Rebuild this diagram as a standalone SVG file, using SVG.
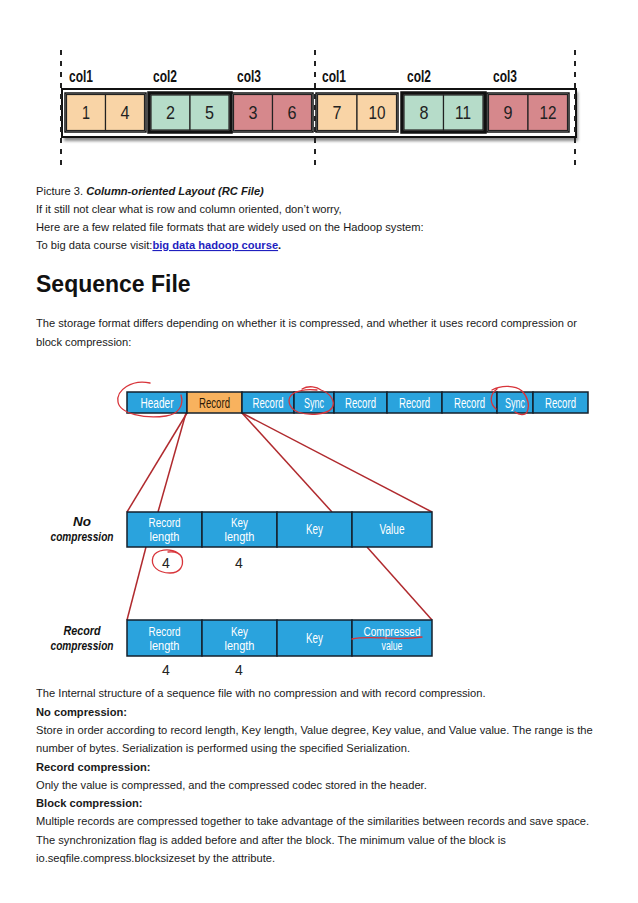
<svg xmlns="http://www.w3.org/2000/svg" width="638" height="903" viewBox="0 0 638 903">
<defs>
<filter id="sh" x="-5%" y="-30%" width="110%" height="160%"><feGaussianBlur stdDeviation="1.5"/></filter>
<style>
.body{font-family:"Liberation Sans",Arial,sans-serif;font-size:11.15px;fill:#1a1a1a}
.b{font-weight:bold}
.h1{font-family:"Liberation Sans",Arial,sans-serif;font-size:23px;font-weight:bold;fill:#111}
.cond{font-family:"Liberation Sans",Arial,sans-serif}
.collab{font-size:17px;font-weight:bold;fill:#111}
.num{font-size:19px;fill:#222;text-anchor:middle}
.pe{fill:#f9d4a6;stroke:#222;stroke-width:1.2}
.gr{fill:#b6dcc9;stroke:#222;stroke-width:1.2}
.rd{fill:#d6888c;stroke:#222;stroke-width:1.2}
.grp{fill:#fff;stroke:#111;stroke-width:1.5}
.grpT{fill:#fff;stroke:#111;stroke-width:3.5}
.dash{stroke:#222;stroke-width:2;stroke-dasharray:5 6;fill:none}
.blue{fill:#2aa3dd;stroke:#15202c;stroke-width:1.5}
.org{fill:#f8b25e;stroke:#15202c;stroke-width:1.5}
.wt{font-size:14px;fill:#fff;text-anchor:middle}
.wt2{font-size:12.5px;fill:#fff;text-anchor:middle}
.dk{font-size:14px;fill:#2a1a0a;text-anchor:middle}
.lab{font-size:13.5px;font-weight:bold;font-style:italic;fill:#111;text-anchor:middle}
.four{font-size:14px;fill:#222;text-anchor:middle}
.conn{stroke:#b02a2e;stroke-width:1.5;fill:none}
.ann{stroke:#d8343a;stroke-width:1.3;fill:none;stroke-linecap:round}
</style>
</defs>
<rect width="638" height="903" fill="#fff"/>

<!-- Column-oriented layout -->
<g id="rcfile">
<rect x="64" y="92" width="514" height="49" fill="#888" filter="url(#sh)"/>
<rect x="62" y="89" width="514" height="48" fill="#fff" stroke="#111" stroke-width="2"/>
<g id="g1">
<rect class="grp" x="65" y="93" width="81" height="39"/>
<rect class="pe" x="66.5" y="94.5" width="39" height="36"/><rect class="pe" x="105.5" y="94.5" width="39" height="36"/>
<text class="cond num" x="86" y="119" textLength="8" lengthAdjust="spacingAndGlyphs">1</text><text class="cond num" x="125" y="119" textLength="9" lengthAdjust="spacingAndGlyphs">4</text>
</g>
<g id="g2">
<rect class="grpT" x="149" y="93" width="82" height="39"/>
<rect class="gr" x="151" y="95" width="39" height="35"/><rect class="gr" x="190" y="95" width="39" height="35"/>
<text class="cond num" x="170.5" y="119" textLength="9" lengthAdjust="spacingAndGlyphs">2</text><text class="cond num" x="209.5" y="119" textLength="9" lengthAdjust="spacingAndGlyphs">5</text>
</g>
<g id="g3">
<rect class="grp" x="232" y="93" width="81" height="39"/>
<rect class="rd" x="233.5" y="94.5" width="39" height="36"/><rect class="rd" x="272.5" y="94.5" width="39" height="36"/>
<text class="cond num" x="253" y="119" textLength="9" lengthAdjust="spacingAndGlyphs">3</text><text class="cond num" x="292" y="119" textLength="9" lengthAdjust="spacingAndGlyphs">6</text>
</g>
<g id="g4">
<rect class="grp" x="316" y="93" width="82" height="39"/>
<rect class="pe" x="317.5" y="94.5" width="39.5" height="36"/><rect class="pe" x="357" y="94.5" width="39.5" height="36"/>
<text class="cond num" x="337" y="119" textLength="9" lengthAdjust="spacingAndGlyphs">7</text><text class="cond num" x="377" y="119" textLength="17" lengthAdjust="spacingAndGlyphs">10</text>
</g>
<g id="g5">
<rect class="grpT" x="402" y="93" width="83" height="39"/>
<rect class="gr" x="404" y="95" width="39.5" height="35"/><rect class="gr" x="443.5" y="95" width="39.5" height="35"/>
<text class="cond num" x="424" y="119" textLength="9" lengthAdjust="spacingAndGlyphs">8</text><text class="cond num" x="463" y="119" textLength="16" lengthAdjust="spacingAndGlyphs">11</text>
</g>
<g id="g6">
<rect class="grp" x="487" y="93" width="82" height="39"/>
<rect class="rd" x="488.5" y="94.5" width="39.5" height="36"/><rect class="rd" x="528" y="94.5" width="39.5" height="36"/>
<text class="cond num" x="508" y="119" textLength="9" lengthAdjust="spacingAndGlyphs">9</text><text class="cond num" x="548" y="119" textLength="17" lengthAdjust="spacingAndGlyphs">12</text>
</g>
<line class="dash" x1="61" y1="50" x2="61" y2="170"/>
<line class="dash" x1="315" y1="50" x2="315" y2="170"/>
<line class="dash" x1="575" y1="50" x2="575" y2="170"/>
<text class="cond collab" x="69" y="82" textLength="24" lengthAdjust="spacingAndGlyphs">col1</text>
<text class="cond collab" x="153" y="82" textLength="24" lengthAdjust="spacingAndGlyphs">col2</text>
<text class="cond collab" x="237" y="82" textLength="24" lengthAdjust="spacingAndGlyphs">col3</text>
<text class="cond collab" x="322" y="82" textLength="24" lengthAdjust="spacingAndGlyphs">col1</text>
<text class="cond collab" x="407" y="82" textLength="24" lengthAdjust="spacingAndGlyphs">col2</text>
<text class="cond collab" x="493" y="82" textLength="24" lengthAdjust="spacingAndGlyphs">col3</text>
</g>

<!-- Text block 1 -->
<text class="body" x="36" y="195">Picture 3. <tspan class="b" font-style="italic">Column-oriented Layout (RC File)</tspan></text>
<text class="body" x="36" y="213">If it still not clear what is row and column oriented, don’t worry,</text>
<text class="body" x="36" y="231">Here are a few related file formats that are widely used on the Hadoop system:</text>
<text class="body" x="36" y="249">To big data course visit:<tspan class="b" fill="#1f1fbf" text-decoration="underline">big data hadoop course</tspan><tspan class="b">.</tspan></text>
<text class="h1" x="36" y="292">Sequence File</text>
<text class="body" x="36" y="327">The storage format differs depending on whether it is compressed, and whether it uses record compression or</text>
<text class="body" x="36" y="346">block compression:</text>

<!-- Connectors -->
<g id="connectors">
<line class="conn" x1="187" y1="413" x2="127" y2="512"/>
<line class="conn" x1="186" y1="413" x2="158" y2="512"/>
<line class="conn" x1="242" y1="413" x2="332" y2="512"/>
<line class="conn" x1="242" y1="413" x2="432" y2="512"/>
<line class="conn" x1="146" y1="547" x2="127" y2="620"/>
<line class="conn" x1="367" y1="547" x2="432" y2="620"/>
</g>

<!-- Top sequence bar -->
<g id="seqbar">
<g id="s-header"><rect class="blue" x="127" y="392" width="60" height="21"/><text class="cond wt" x="157" y="407.5" textLength="33" lengthAdjust="spacingAndGlyphs">Header</text></g>
<g id="s-rec1"><rect class="org" x="187" y="392" width="55" height="21"/><text class="cond dk" x="214.5" y="407.5" textLength="31" lengthAdjust="spacingAndGlyphs">Record</text></g>
<g id="s-rec2"><rect class="blue" x="242" y="392" width="52" height="21"/><text class="cond wt" x="268" y="407.5" textLength="31" lengthAdjust="spacingAndGlyphs">Record</text></g>
<g id="s-sync1"><rect class="blue" x="294" y="392" width="40" height="21"/><text class="cond wt" x="314" y="407.5" textLength="20" lengthAdjust="spacingAndGlyphs">Sync</text></g>
<g id="s-rec3"><rect class="blue" x="334" y="392" width="53" height="21"/><text class="cond wt" x="360.5" y="407.5" textLength="31" lengthAdjust="spacingAndGlyphs">Record</text></g>
<g id="s-rec4"><rect class="blue" x="387" y="392" width="55" height="21"/><text class="cond wt" x="414.5" y="407.5" textLength="31" lengthAdjust="spacingAndGlyphs">Record</text></g>
<g id="s-rec5"><rect class="blue" x="442" y="392" width="55" height="21"/><text class="cond wt" x="469.5" y="407.5" textLength="31" lengthAdjust="spacingAndGlyphs">Record</text></g>
<g id="s-sync2"><rect class="blue" x="497" y="392" width="36" height="21"/><text class="cond wt" x="515" y="407.5" textLength="20" lengthAdjust="spacingAndGlyphs">Sync</text></g>
<g id="s-rec6"><rect class="blue" x="533" y="392" width="55" height="21"/><text class="cond wt" x="560.5" y="407.5" textLength="31" lengthAdjust="spacingAndGlyphs">Record</text></g>
</g>

<!-- No compression row -->
<g id="nocomp">
<text class="cond lab" x="82" y="526" textLength="18" lengthAdjust="spacingAndGlyphs">No</text>
<text class="cond lab" x="82" y="541" textLength="63" lengthAdjust="spacingAndGlyphs">compression</text>
<g id="n-reclen"><rect class="blue" x="127" y="512" width="75" height="35"/><text class="cond wt2" x="164.5" y="527" textLength="32" lengthAdjust="spacingAndGlyphs">Record</text><text class="cond wt2" x="164.5" y="541" textLength="30" lengthAdjust="spacingAndGlyphs">length</text></g>
<g id="n-keylen"><rect class="blue" x="202" y="512" width="75" height="35"/><text class="cond wt2" x="239.5" y="527" textLength="17" lengthAdjust="spacingAndGlyphs">Key</text><text class="cond wt2" x="239.5" y="541" textLength="30" lengthAdjust="spacingAndGlyphs">length</text></g>
<g id="n-key"><rect class="blue" x="277" y="512" width="75" height="35"/><text class="cond wt" x="314.5" y="534" textLength="17" lengthAdjust="spacingAndGlyphs">Key</text></g>
<g id="n-value"><rect class="blue" x="352" y="512" width="80" height="35"/><text class="cond wt" x="392" y="534" textLength="25" lengthAdjust="spacingAndGlyphs">Value</text></g>
<text class="cond four" x="166" y="568">4</text>
<text class="cond four" x="239" y="568">4</text>
</g>

<!-- Record compression row -->
<g id="reccomp">
<text class="cond lab" x="82" y="635" textLength="37" lengthAdjust="spacingAndGlyphs">Record</text>
<text class="cond lab" x="82" y="650" textLength="63" lengthAdjust="spacingAndGlyphs">compression</text>
<g id="r-reclen"><rect class="blue" x="127" y="620" width="75" height="36"/><text class="cond wt2" x="164.5" y="636" textLength="32" lengthAdjust="spacingAndGlyphs">Record</text><text class="cond wt2" x="164.5" y="650" textLength="30" lengthAdjust="spacingAndGlyphs">length</text></g>
<g id="r-keylen"><rect class="blue" x="202" y="620" width="75" height="36"/><text class="cond wt2" x="239.5" y="636" textLength="17" lengthAdjust="spacingAndGlyphs">Key</text><text class="cond wt2" x="239.5" y="650" textLength="30" lengthAdjust="spacingAndGlyphs">length</text></g>
<g id="r-key"><rect class="blue" x="277" y="620" width="75" height="36"/><text class="cond wt" x="314.5" y="643" textLength="17" lengthAdjust="spacingAndGlyphs">Key</text></g>
<g id="r-cvalue"><rect class="blue" x="352" y="620" width="80" height="36"/><text class="cond wt2" x="392" y="636" textLength="57" lengthAdjust="spacingAndGlyphs">Compressed</text><text class="cond wt2" x="392" y="650" textLength="21" lengthAdjust="spacingAndGlyphs">value</text></g>
<text class="cond four" x="166" y="675">4</text>
<text class="cond four" x="239" y="675">4</text>
</g>

<!-- Red hand annotations -->
<g id="annotations">
<path class="ann" d="M150,383 C132,379 116,390 118,402 C120,414 145,419 166,416 C179,414 184,405 181,395"/>
<path class="ann" d="M302,389 C309,385 317,387 321,390 C330,393 336,401 332,408 C327,415 309,416 298,412 C288,408 286,398 294,393 C300,390 309,389 317,390"/>
<path class="ann" d="M492,390 C501,385 515,385 522,391 C528,397 530,406 527,412 C525,416 519,415 515,412 M497,389 C490,394 489,403 496,409"/>
<path class="ann" d="M178,553 C170,548 156,549 153,557 C150,566 158,573 170,573 C180,573 184,566 182,558 C181,554 176,551 168,552"/>
<path class="ann" d="M352,639 C370,635 395,641 422,637"/>
</g>

<!-- Text block 2 -->
<text class="body" x="36" y="697">The Internal structure of a sequence file with no compression and with record compression.</text>
<text class="body b" x="36" y="716">No compression:</text>
<text class="body" x="36" y="734">Store in order according to record length, Key length, Value degree, Key value, and Value value. The range is the</text>
<text class="body" x="36" y="752">number of bytes. Serialization is performed using the specified Serialization.</text>
<text class="body b" x="36" y="771">Record compression:</text>
<text class="body" x="36" y="789">Only the value is compressed, and the compressed codec stored in the header.</text>
<text class="body b" x="36" y="807">Block compression:</text>
<text class="body" x="36" y="825">Multiple records are compressed together to take advantage of the similarities between records and save space.</text>
<text class="body" x="36" y="844">The synchronization flag is added before and after the block. The minimum value of the block is</text>
<text class="body" x="36" y="862">io.seqfile.compress.blocksizeset by the attribute.</text>
</svg>
